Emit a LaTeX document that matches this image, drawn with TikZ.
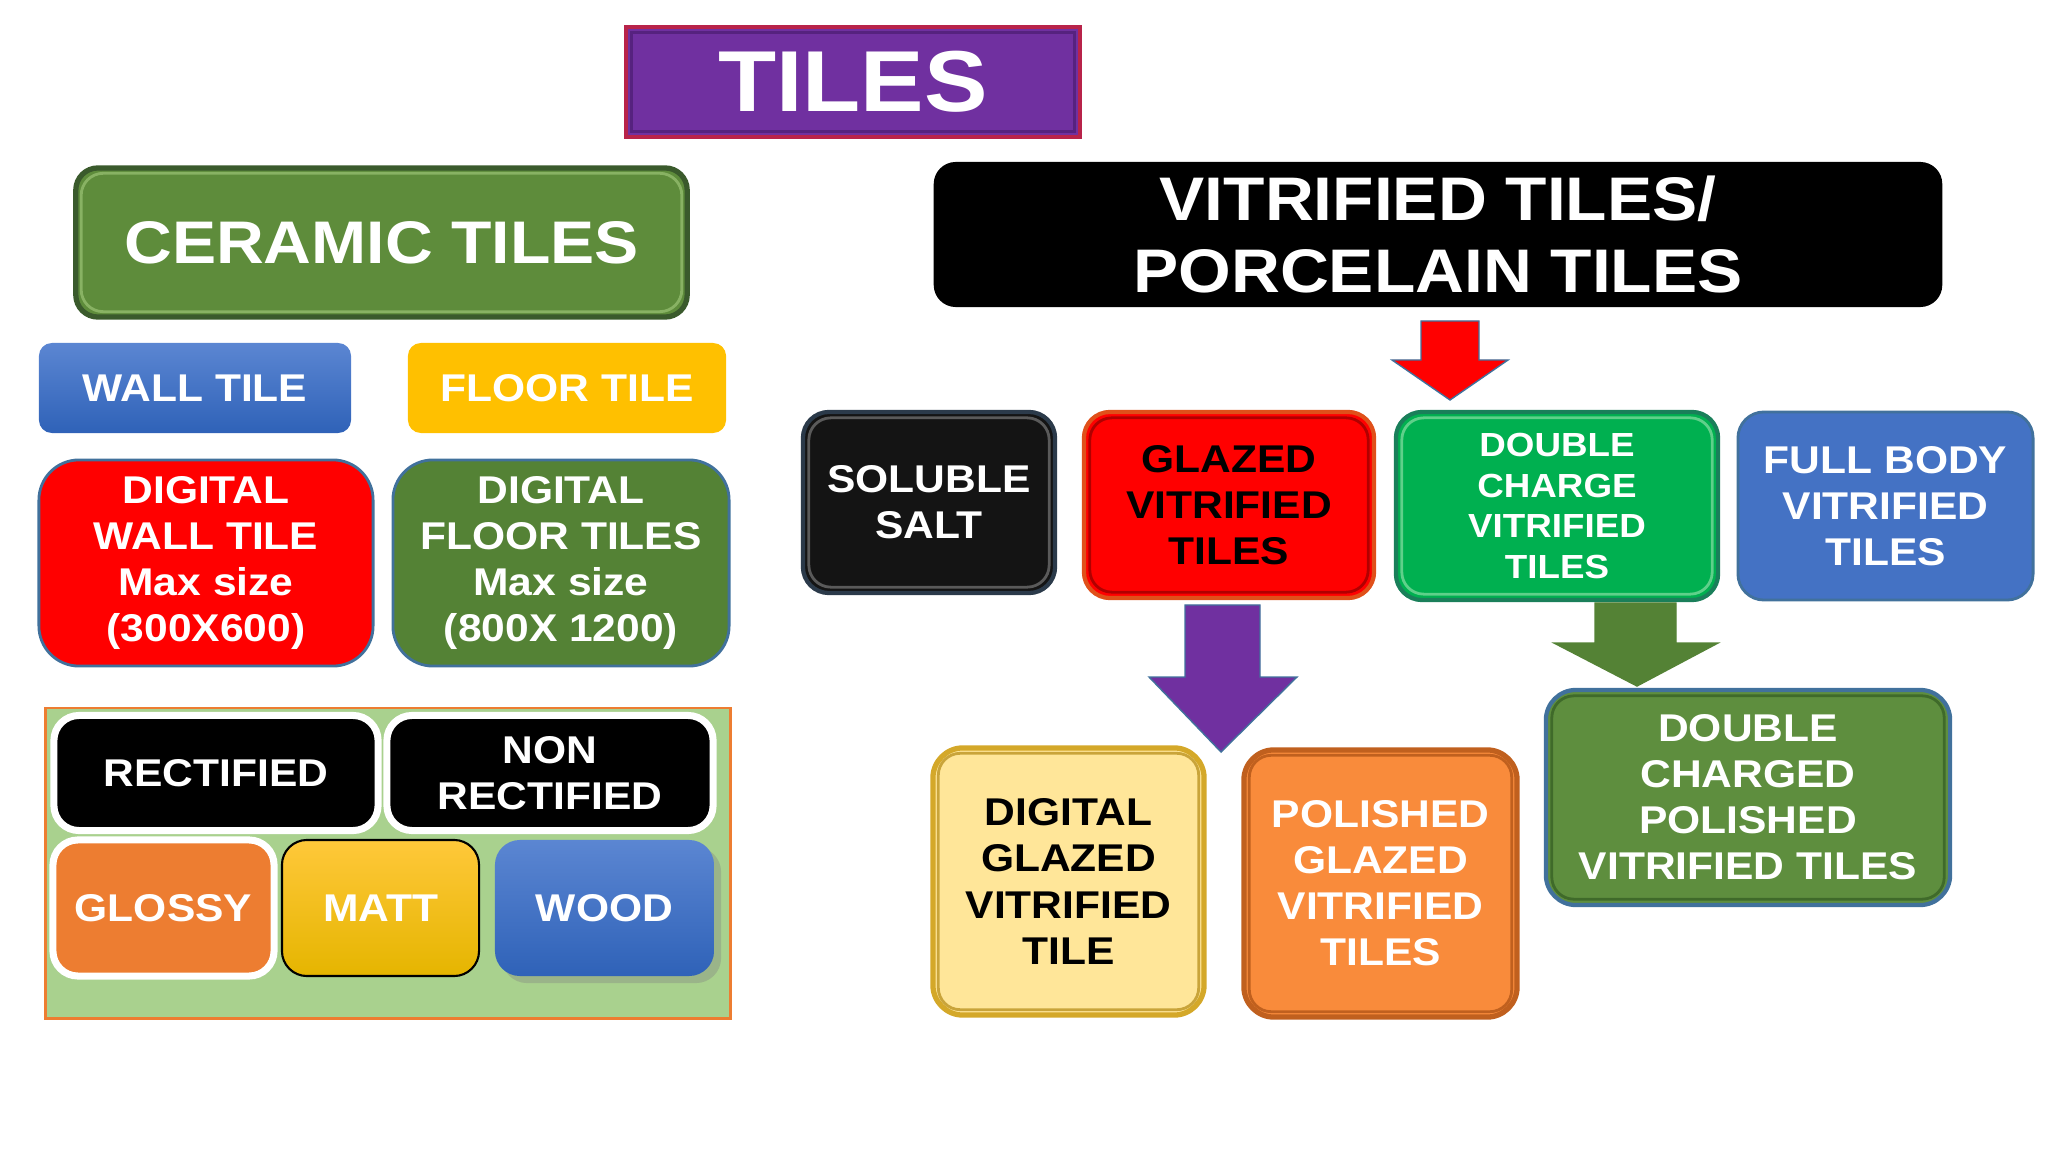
\documentclass[tikz,border=0pt]{standalone}
\usepackage{fontspec}
\newfontfamily\tilefont{Liberation Sans}[FakeStretch=1.1]
\usetikzlibrary{shadows}
\definecolor{tilespurple}{HTML}{7030A0}
\definecolor{tilesedge}{HTML}{B8234A}
\definecolor{tilesrim}{HTML}{56227F}
\definecolor{ceramicgreen}{HTML}{5E8C3B}
\definecolor{ceramicedge}{HTML}{3A5A2C}
\definecolor{ceramicrim}{HTML}{88B263}
\definecolor{officeblue}{HTML}{4472C4}
\definecolor{blueedge}{HTML}{41719C}
\definecolor{bluetop}{HTML}{5B86D2}
\definecolor{bluebottom}{HTML}{2F62B8}
\definecolor{gold}{HTML}{FFC000}
\definecolor{leafgreen}{HTML}{548235}
\definecolor{panelgreen}{HTML}{A9D18E}
\definecolor{panelorange}{HTML}{ED7D31}
\definecolor{matttop}{HTML}{FFC83A}
\definecolor{mattbottom}{HTML}{E5B500}
\definecolor{saltblack}{HTML}{141414}
\definecolor{saltedge}{HTML}{2B3A4A}
\definecolor{saltrim}{HTML}{5A5A5A}
\definecolor{glazededge}{HTML}{E0501A}
\definecolor{glazedrim}{HTML}{B00000}
\definecolor{chargegreen}{HTML}{00B050}
\definecolor{chargeedge}{HTML}{1A7F5A}
\definecolor{chargerim}{HTML}{5FD08A}
\definecolor{polgreen}{HTML}{5E8E3E}
\definecolor{polrim}{HTML}{3F6A2A}
\definecolor{cream}{HTML}{FFE699}
\definecolor{creamedge}{HTML}{D4A829}
\definecolor{creamrim}{HTML}{C9A43A}
\definecolor{polorange}{HTML}{F98B3B}
\definecolor{polorangeedge}{HTML}{C0601E}
\tikzset{
  box/.style={rounded corners=0.26cm, align=center, text=white, inner sep=0pt,
    font=\tilefont\bfseries\fontsize{11}{13.1}\selectfont},
}
\begin{document}
\begin{tikzpicture}[x=0.01cm,y=-0.01cm]
\useasboundingbox (0,0) rectangle (2048,1152);
% title
\node[box, rounded corners=0, fill=tilespurple, draw=tilesedge, line width=1.2pt, minimum width=4.54cm, minimum height=1.1cm,
  font=\tilefont\bfseries\fontsize{24.6}{28}\selectfont] (tiles) at (853,82) {TILES};
\draw[tilesrim, line width=0.8pt] ([shift={(8,8)}]tiles.north west) rectangle ([shift={(-8,-8)}]tiles.south east);
% ceramic side
\node[box, rounded corners=0.22cm, fill=ceramicgreen, draw=ceramicedge, line width=1.5pt, minimum width=6.11cm, minimum height=1.49cm,
  font=\tilefont\bfseries\fontsize{17.1}{20}\selectfont] (ceramic) at (381.5,242.5) {CERAMIC TILES};
\node[box, rounded corners=0.13cm, top color=bluetop, bottom color=bluebottom, minimum width=3.12cm, minimum height=0.9cm] (wall) at (195,388) {WALL TILE};
\node[box, rounded corners=0.13cm, fill=gold, minimum width=3.18cm, minimum height=0.9cm] (floor) at (567,388) {FLOOR TILE};
\node[box, rounded corners=0.4cm, fill=red, draw=blueedge, line width=0.8pt, minimum width=3.34cm, minimum height=2.06cm] (dwall) at (206,563) {DIGITAL\\WALL TILE\\Max size\\(300X600)};
\node[box, rounded corners=0.4cm, fill=leafgreen, draw=blueedge, line width=0.8pt, minimum width=3.36cm, minimum height=2.06cm] (dfloor) at (561,563) {DIGITAL\\FLOOR TILES\\Max size\\(800X 1200)};
\node[fill=panelgreen, draw=panelorange, line width=0.8pt, minimum width=6.84cm, minimum height=3.1cm] (panel) at (388,863) {};
\node[box, rounded corners=0.25cm, fill=black, draw=white, line width=2pt, minimum width=3.24cm, minimum height=1.15cm] (rect) at (216,773) {RECTIFIED};
\node[box, rounded corners=0.25cm, fill=black, draw=white, line width=2pt, minimum width=3.26cm, minimum height=1.15cm] (nonrect) at (550,773) {NON\\RECTIFIED};
\node[box, rounded corners=0.25cm, fill=panelorange, draw=white, line width=2pt, minimum width=2.21cm, minimum height=1.36cm] (glossy) at (163.5,908) {GLOSSY};
\node[box, rounded corners=0.25cm, top color=matttop, bottom color=mattbottom, draw=black, line width=0.6pt, minimum width=1.97cm, minimum height=1.36cm] (matt) at (380.5,908) {MATT};
\node[box, rounded corners=0.25cm, top color=bluetop, bottom color=bluebottom, drop shadow={opacity=0.35, shadow xshift=2pt, shadow yshift=-2pt},
  minimum width=2.19cm, minimum height=1.36cm] (wood) at (604.5,908) {WOOD};
% vitrified side
\node[box, rounded corners=0.22cm, fill=black, minimum width=10.08cm, minimum height=1.45cm,
  font=\tilefont\bfseries\fontsize{17.5}{20.5}\selectfont] (vit) at (1438,234.5) {VITRIFIED TILES/\\PORCELAIN TILES};
\node[box, fill=saltblack, draw=saltedge, line width=1.2pt, minimum width=2.52cm, minimum height=1.81cm] (soluble) at (929,502.5) {SOLUBLE\\SALT};
\node[box, fill=red, draw=glazededge, line width=1.2pt, text=black, minimum width=2.9cm, minimum height=1.86cm] (glazed) at (1229,505) {GLAZED\\VITRIFIED\\TILES};
\node[box, fill=chargegreen, draw=chargeedge, line width=1.2pt, minimum width=3.22cm, minimum height=1.88cm,
  font=\tilefont\bfseries\fontsize{9.5}{11.6}\selectfont] (dcharge) at (1557,506) {DOUBLE\\CHARGE\\VITRIFIED\\TILES};
\node[box, fill=officeblue, draw=blueedge, line width=0.8pt, minimum width=2.95cm, minimum height=1.88cm] (fullbody) at (1885.5,506) {FULL BODY\\VITRIFIED\\TILES};
\node[box, rounded corners=0.3cm, fill=cream, draw=creamedge, line width=1.5pt, text=black, minimum width=2.71cm, minimum height=2.67cm] (dglazed) at (1068.5,881.5) {DIGITAL\\GLAZED\\VITRIFIED\\TILE};
\node[box, rounded corners=0.3cm, fill=polorange, draw=polorangeedge, line width=1.5pt, minimum width=2.73cm, minimum height=2.67cm] (pglazed) at (1380.5,883.5) {POLISHED\\GLAZED\\VITRIFIED\\TILES};
\node[box, rounded corners=0.3cm, fill=polgreen, draw=blueedge, line width=1.2pt, minimum width=4.04cm, minimum height=2.15cm] (dcpol) at (1748,797.5) {DOUBLE\\CHARGED\\POLISHED\\VITRIFIED TILES};
% bevel rims
\foreach \n/\c in {ceramic/ceramicrim, soluble/saltrim, glazed/glazedrim, dcharge/chargerim, dcpol/polrim, dglazed/creamrim, pglazed/polorangeedge}
  \draw[\c, line width=0.8pt, rounded corners=0.22cm] ([shift={(8,8)}]\n.north west) rectangle ([shift={(-8,-8)}]\n.south east);
% block arrows
\filldraw[fill=red, draw=blueedge, line width=0.4pt] (1421,321) -- (1479,321) -- (1479,360) -- (1508,360) -- (1450,400) -- (1392,360) -- (1421,360) -- cycle;
\filldraw[fill=tilespurple, draw=blueedge, line width=0.4pt] (1185,605) -- (1260,605) -- (1260,677) -- (1297,677) -- (1221,752) -- (1149,677) -- (1185,677) -- cycle;
\filldraw[fill=leafgreen, draw=leafgreen, line width=0.4pt] (1595,603) -- (1676,603) -- (1676,643) -- (1718,643) -- (1637,686) -- (1554,643) -- (1595,643) -- cycle;
\end{tikzpicture}
\end{document}
